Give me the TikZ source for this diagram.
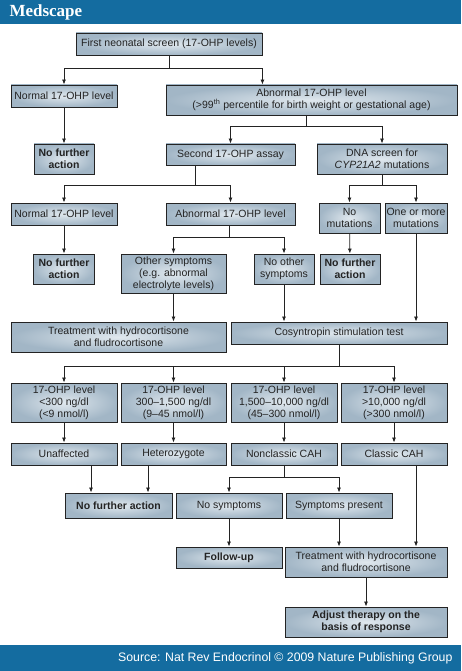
\documentclass[tikz,border=0pt]{standalone}
\usepackage{fontspec}
\setmainfont{Liberation Sans}
\newfontfamily\logofont{Liberation Serif}
\usetikzlibrary{arrows.meta,positioning}
\definecolor{medblue}{RGB}{20,108,160}
\definecolor{boxin}{RGB}{224,232,238}
\definecolor{boxout}{RGB}{162,182,198}
\definecolor{ink}{RGB}{35,35,35}

\begin{document}
\begin{tikzpicture}[x=1pt,y=-1pt,
  stage/.style={rectangle,draw=ink,line width=0.9pt,inner color=boxin,
                outer color=boxout,align=center,inner sep=0pt,text=ink,
                font=\fontsize{10.5}{11.8}\selectfont},
  act/.style={stage,font=\fontsize{10.5}{11.8}\selectfont\bfseries},
  flow/.style={-{Latex[length=5pt,width=4pt]},draw=ink,line width=0.8pt},
  link/.style={draw=ink,line width=0.8pt},
]
  \useasboundingbox (0,0) rectangle (461,671);

  % Header and footer bars
  \fill[medblue] (0,0) rectangle (461,24);
  \fill[medblue] (0,645) rectangle (461,671);
  \node[anchor=west,text=white,font=\logofont\bfseries\fontsize{17}{17}\selectfont]
    (logo) at (6,12) {Medscape};
  \node[anchor=east,text=white,font=\fontsize{12.3}{13}\selectfont]
    (source) at (456,658) {Source: Nat Rev Endocrinol © 2009 Nature Publishing Group};

  % Screening
  \node[stage,minimum width=186,minimum height=22] (screen) at (169,44)
    {First neonatal screen (17-OHP levels)};
  \node[stage,minimum width=106,minimum height=22] (norm1) at (64,96)
    {Normal 17-OHP level};
  \node[stage,minimum width=291,minimum height=30] (abn1) at (311.5,100)
    {Abnormal 17-OHP level\\(>99\textsuperscript{th} percentile for birth weight or gestational age)};
  \node[act,minimum width=60,minimum height=30] (nfa1) at (64,159)
    {No further\\action};
  \node[stage,minimum width=129,minimum height=21] (assay) at (230.5,154.5)
    {Second 17-OHP assay};
  \node[stage,minimum width=130,minimum height=30] (dna) at (382,159)
    {DNA screen for\\\textit{CYP21A2} mutations};

  % Second assay and DNA results
  \node[stage,minimum width=106,minimum height=22] (norm2) at (64,214)
    {Normal 17-OHP level};
  \node[stage,minimum width=129,minimum height=22] (abn2) at (230.5,214)
    {Abnormal 17-OHP level};
  \node[stage,minimum width=61,minimum height=30] (nomut) at (349.5,218)
    {No\\mutations};
  \node[stage,minimum width=62,minimum height=30] (somemut) at (416,218)
    {One or more\\mutations};
  \node[act,minimum width=61,minimum height=30] (nfa2) at (64,269)
    {No further\\action};
  \node[stage,minimum width=105,minimum height=39] (other) at (173.5,273.5)
    {Other symptoms\\(e.g. abnormal\\electrolyte levels)};
  \node[stage,minimum width=60,minimum height=30] (noother) at (284,269)
    {No other\\symptoms};
  \node[act,minimum width=60,minimum height=30] (nfa3) at (350,269)
    {No further\\action};

  % Treatment and stimulation test
  \node[stage,minimum width=215,minimum height=30] (treat1) at (118.5,337)
    {Treatment with hydrocortisone\\and fludrocortisone};
  \node[stage,minimum width=216,minimum height=22] (cosyn) at (339,333)
    {Cosyntropin stimulation test};

  % 17-OHP levels after stimulation
  \node[stage,minimum width=106,minimum height=39] (lvl1) at (64,402.5)
    {17-OHP level\\<300 ng/dl\\(<9 nmol/l)};
  \node[stage,minimum width=105,minimum height=39] (lvl2) at (173.5,402.5)
    {17-OHP level\\300–1,500 ng/dl\\(9–45 nmol/l)};
  \node[stage,minimum width=106,minimum height=39] (lvl3) at (284,402.5)
    {17-OHP level\\1,500–10,000 ng/dl\\(45–300 nmol/l)};
  \node[stage,minimum width=106,minimum height=39] (lvl4) at (394,402.5)
    {17-OHP level\\>10,000 ng/dl\\(>300 nmol/l)};

  % Diagnoses
  \node[stage,minimum width=106,minimum height=22] (unaff) at (64,454) {Unaffected};
  \node[stage,minimum width=105,minimum height=22] (hetero) at (173.5,454) {Heterozygote};
  \node[stage,minimum width=106,minimum height=22] (noncl) at (284,454) {Nonclassic CAH};
  \node[stage,minimum width=106,minimum height=22] (classic) at (394,454) {Classic CAH};

  % Follow-up
  \node[act,minimum width=107,minimum height=25] (nfa4) at (118.5,505.5)
    {No further action};
  \node[stage,minimum width=106,minimum height=25] (nosym) at (229,505.5)
    {No symptoms};
  \node[stage,minimum width=106,minimum height=25] (sympres) at (339,505.5)
    {Symptoms present};
  \node[act,minimum width=106,minimum height=21] (followup) at (229,557.5)
    {Follow-up};
  \node[stage,minimum width=162,minimum height=30] (treat2) at (366,562)
    {Treatment with hydrocortisone\\and fludrocortisone};
  \node[act,minimum width=162,minimum height=30] (adjust) at (366,622)
    {Adjust therapy on the\\basis of response};

  % Branch points
  \coordinate (s1) at (169,68);
  \coordinate (s2) at (306,126);
  \coordinate (s3) at (195,185);
  \coordinate (s4) at (382,185);
  \coordinate (s5) at (229,237);
  \coordinate (s6) at (339,366);
  \coordinate (s7) at (284,477);

  % First screen
  \draw[link] (screen) -- (s1);
  \draw[flow] (s1) -| (norm1);
  \draw[flow] (s1) -| (abn1.north -| screen.east);
  \draw[flow] (norm1) -- (nfa1);
  \draw[link] (abn1.south -| s2) -- (s2);
  \draw[flow] (s2) -| (assay);
  \draw[flow] (s2) -| (dna);

  % Second assay / DNA screen
  \draw[link] (assay.south -| s3) -- (s3);
  \draw[flow] (s3) -| (norm2);
  \draw[flow] (s3) -| (abn2);
  \draw[link] (dna) -- (s4);
  \draw[flow] (s4) -| (nomut);
  \draw[flow] (s4) -| (somemut);
  \draw[flow] (norm2) -- (nfa2);
  \draw[link] (abn2.south -| s5) -- (s5);
  \draw[flow] (s5) -| (other);
  \draw[flow] (s5) -| (noother);
  \draw[flow] (nomut) -- (nfa3);

  % Into treatment / stimulation test
  \draw[flow] (other) -- (other.south |- treat1.north);
  \draw[flow] (noother) -- (noother.south |- cosyn.north);
  \draw[flow] (somemut) -- (somemut.south |- cosyn.north);
  \draw[link] (cosyn) -- (s6);
  \draw[flow] (s6) -| (lvl1);
  \draw[flow] (s6) -| (lvl2);
  \draw[flow] (s6) -| (lvl3);
  \draw[flow] (s6) -| (lvl4);
  \draw[flow] (lvl1) -- (unaff);
  \draw[flow] (lvl2) -- (hetero);
  \draw[flow] (lvl3) -- (noncl);
  \draw[flow] (lvl4) -- (classic);

  % Outcomes
  \draw[flow] ([xshift=27]unaff.south) -- ([xshift=-27.5]nfa4.north);
  \draw[flow] ([xshift=-25.5]hetero.south) -- ([xshift=29.5]nfa4.north);
  \draw[link] (noncl) -- (s7);
  \draw[flow] (s7) -| (nosym);
  \draw[flow] (s7) -| (sympres);
  \draw[flow] ([xshift=22]classic.south) -- ([xshift=50]treat2.north);
  \draw[flow] (nosym) -- (followup);
  \draw[flow] (sympres) -- (sympres.south |- treat2.north);
  \draw[flow] (treat2) -- (adjust);
\end{tikzpicture}
\end{document}
